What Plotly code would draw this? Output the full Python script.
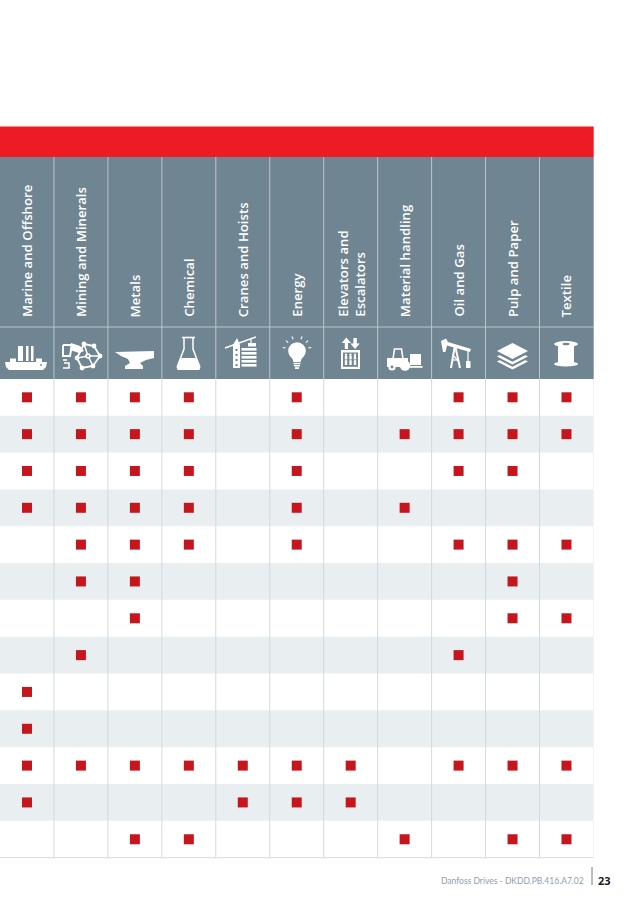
import math
import plotly.graph_objects as go

W, H = 638, 902
COL_W = 53.95
ROW_H = 36.83
ROW0_Y = 397.3

GREY = '#6F8592'
RED_BAND = '#ED1C24'
RED_MARK = '#C5151D'
STRIPE = '#E9EEF1'
BODY_LINE = '#D3DADF'
HEAD_LINE = '#B9C6CE'

industries = ['Marine and Offshore', 'Mining and Minerals', 'Metals', 'Chemical',
              'Cranes and Hoists', 'Energy', 'Elevators and<br>Escalators',
              'Material handling', 'Oil and Gas', 'Pulp and Paper', 'Textile']

# which industry columns are ticked on each row
row_00 = [0, 1, 2, 3, 5, 8, 9, 10]
row_01 = [0, 1, 2, 3, 5, 7, 8, 9, 10]
row_02 = [0, 1, 2, 3, 5, 8, 9]
row_03 = [0, 1, 2, 3, 5, 7]
row_04 = [1, 2, 3, 5, 8, 9, 10]
row_05 = [1, 2, 9]
row_06 = [2, 9, 10]
row_07 = [1, 8]
row_08 = [0]
row_09 = [0]
row_10 = [0, 1, 2, 3, 4, 5, 6, 8, 9, 10]
row_11 = [0, 4, 5, 6]
row_12 = [2, 3, 7, 9, 10]
rows = [row_00, row_01, row_02, row_03, row_04, row_05, row_06,
        row_07, row_08, row_09, row_10, row_11, row_12]

footer_text = 'Danfoss Drives - DKDD.PB.416.A7.02'
page_number = '23'

shapes = []


def px(x):
    return x / W


def py(y):
    return 1 - y / H


def rect(x0, y0, x1, y1, color='white', layer='above'):
    shapes.append(dict(type='rect', xref='paper', yref='paper', x0=px(x0), x1=px(x1), y0=py(y0), y1=py(y1),
                       fillcolor=color, line_width=0, layer=layer))


def poly(points, color='white'):
    path = 'M' + ' L'.join(f'{px(x):.5f},{py(y):.5f}' for x, y in points) + ' Z'
    shapes.append(dict(type='path', xref='paper', yref='paper', path=path, fillcolor=color, line_width=0))


def stroke(points, width=1.5, color='white'):
    path = 'M' + ' L'.join(f'{px(x):.5f},{py(y):.5f}' for x, y in points)
    shapes.append(dict(type='path', xref='paper', yref='paper', path=path, line=dict(color=color, width=width)))


def dot(cx, cy, rx, ry=None, color='white'):
    ry = rx if ry is None else ry
    shapes.append(dict(type='circle', xref='paper', yref='paper', x0=px(cx - rx), x1=px(cx + rx),
                       y0=py(cy - ry), y1=py(cy + ry), fillcolor=color, line_width=0))


# header bands
rect(0, 126.5, 593.7, 157, RED_BAND, 'below')
rect(0, 157, 593.7, 378.9, GREY, 'below')

# zebra rows
for r in range(len(rows)):
    if r % 2 == 1:
        shapes.append(dict(type='rect', xref='x', yref='y', x0=-0.5, x1=10.5, y0=r - 0.5, y1=r + 0.5,
                           fillcolor=STRIPE, line_width=0, layer='below'))

# column rules
for c in range(len(industries)):
    if c > 0:
        shapes.append(dict(type='line', xref='x', yref='paper', x0=c - 0.5, x1=c - 0.5, y0=py(157), y1=py(378.9),
                           line=dict(color=HEAD_LINE, width=1), layer='below'))
        shapes.append(dict(type='line', xref='x', yref='y', x0=c - 0.5, x1=c - 0.5, y0=-0.5, y1=12.5,
                           line=dict(color=BODY_LINE, width=1), layer='below'))
shapes.append(dict(type='line', xref='x', yref='y', x0=10.5, x1=10.5, y0=-0.5, y1=12.5,
                   line=dict(color='#F1F3F5', width=1), layer='below'))
shapes.append(dict(type='line', xref='x', yref='y', x0=-0.5, x1=10.5, y0=12.5, y1=12.5,
                   line=dict(color=BODY_LINE, width=1), layer='below'))
shapes.append(dict(type='line', xref='paper', yref='paper', x0=0, x1=px(593.7), y0=py(327), y1=py(327),
                   line=dict(color=HEAD_LINE, width=1), layer='below'))

# --- icons ---
# ship
poly([(5, 362), (47, 362), (46, 367), (43, 370), (9, 370), (6, 367)])
rect(18, 346, 23, 361)
rect(26, 346, 28.5, 361)
rect(31, 346, 33.5, 361)
rect(10, 358.5, 16, 362)
rect(36, 358.5, 42, 362)
dot(41, 365, 0.9, color=GREY)

# mining
stroke([(63, 345), (72, 345), (70, 356), (63, 356), (63, 345)], 2)
poly([(71, 343), (80, 346), (84, 351), (79, 353), (70, 350)])
stroke([(63, 360), (67, 360)], 1.6)
stroke([(64, 363), (69, 363), (69, 368), (63, 368)], 1.6)
stroke([(84, 344), (94, 346), (100, 356), (93, 366), (82, 368), (77, 358), (84, 344)], 1.8)
stroke([(84, 344), (88, 356), (100, 356)], 1.5)
stroke([(77, 358), (88, 356), (93, 366)], 1.5)
for n in [(84, 344), (94, 346), (100, 356), (93, 366), (82, 368), (77, 358)]:
    dot(n[0], n[1], 2.4)
dot(88, 356, 2.8)
dot(88, 356, 1, color=GREY)

# anvil
poly([(115, 352), (154, 351), (154, 358), (146, 360), (140, 363), (143, 366), (143, 369), (125, 369),
      (125, 366), (130, 363), (128, 359), (121, 356)])

# flask
stroke([(182, 337.5), (195, 337.5)], 1.6)
stroke([(184, 338), (184, 349), (177.5, 366), (178, 369), (199, 369), (199.5, 366), (193, 349), (193, 338)], 1.5)
poly([(180.5, 358), (196.5, 358), (200.5, 367), (199, 370), (178, 370), (176.5, 367)])

# crane
poly([(233, 345), (237, 338), (240, 345), (240, 368), (233, 368)])
for y in (349, 354, 359, 364):
    rect(235.5, y, 237.5, y + 2, GREY)
stroke([(225, 348), (256, 337)], 1.6)
stroke([(251, 339), (251, 344)], 1.2)
rect(248, 343, 256, 346.5)
for y in (348, 352, 356, 360, 364):
    rect(241.5, y, 256.5, y + 2.6)

# bulb
dot(297, 351, 8.8)
poly([(291.5, 356), (302.5, 356), (300.5, 362), (293.5, 362)])
rect(293.5, 362.8, 300.5, 364.3)
rect(294, 365, 300, 366.5)
rect(295, 367.2, 299, 369)
for a in (-170, -140, -110, -70, -40, -10):
    ca, sa = math.cos(math.radians(a)), math.sin(math.radians(a))
    stroke([(297 + 11.5 * ca, 350 + 11.5 * sa), (297 + 14.5 * ca, 350 + 14.5 * sa)], 1.1)

# elevator
rect(341, 350, 360, 369)
rect(343, 352.5, 358, 366.8, GREY)
for x in (346, 350.5, 355):
    rect(x - 1.2, 356, x + 1.2, 365)
    dot(x, 354.8, 1.2)
rect(343.5, 359.5, 357.5, 360.2, GREY)
poly([(346.3, 337.5), (351, 343), (348, 343), (348, 349), (344.8, 349), (344.8, 343), (341.8, 343)])
poly([(355, 349), (359.8, 343.5), (356.8, 343.5), (356.8, 338), (353.4, 338), (353.4, 343.5), (350.4, 343.5)])

# forklift
stroke([(393, 359), (394.5, 349), (401.5, 349), (403, 359)], 1.6)
rect(387, 358, 408, 367)
dot(392, 367, 3.6)
dot(392, 367, 1.4, color=GREY)
dot(405, 365.5, 5.2)
rect(410, 354, 421, 365)
rect(408, 366, 422.5, 367.8)

# pumpjack
poly([(441, 341), (446, 338.5), (448, 342), (471, 349), (470, 352), (447, 345.5), (445.5, 352), (443, 352)])
stroke([(455, 345), (451, 368)], 2)
stroke([(455, 345), (460, 368)], 2)
stroke([(452.5, 360), (458.5, 360)], 1.3)
stroke([(453, 355), (459, 362)], 1.2)
stroke([(468, 350), (468, 362)], 1.2)
rect(466, 361, 470.5, 368)

# layers
for cy, col in [(361.5, 'white'), (358.8, GREY), (356.5, 'white'), (353.8, GREY), (351, 'white')]:
    poly([(497, cy), (512.5, cy - 8), (528, cy), (512.5, cy + 8)], col)

# spool
dot(566, 364, 12, 2.6)
rect(558, 345, 574, 364)
dot(566, 344, 12, 3)
dot(566, 344, 3.5, 1.2, GREY)

# page furniture
shapes.append(dict(type='line', xref='paper', yref='paper', x0=px(592), x1=px(592), y0=py(867), y1=py(885),
                   line=dict(color='#6F7F8A', width=1)))

annotations = []
for c, name in enumerate(industries):
    annotations.append(dict(x=c, y=py(319), xref='x', yref='paper', text=name, textangle=-90, showarrow=False,
                            xanchor='center', yanchor='bottom', align='left',
                            font=dict(family='Open Sans', size=13.2, color='white', weight=600)))
annotations.append(dict(x=px(586), y=py(880.5), xref='paper', yref='paper', text=footer_text, showarrow=False,
                        xanchor='right', yanchor='middle', font=dict(family='Lato', size=8.5, color='#8FA0AB')))
annotations.append(dict(x=px(596), y=py(880.5), xref='paper', yref='paper', text=f'<b>{page_number}</b>', showarrow=False,
                        xanchor='left', yanchor='middle', font=dict(family='Open Sans', size=11, color='#1A1A1A')))

xs = []
ys = []
for r, cols in enumerate(rows):
    for c in cols:
        xs.append(c)
        ys.append(r)

fig = go.Figure(go.Scatter(x=xs, y=ys, mode='markers', hoverinfo='skip',
                           marker=dict(symbol='square', size=10, color=RED_MARK)))

fig.update_layout(
    width=W, height=H, margin=dict(l=0, r=0, t=0, b=0, pad=0), showlegend=False,
    paper_bgcolor='white', plot_bgcolor='white',
    xaxis=dict(range=[-0.5, W / COL_W - 0.5], visible=False, fixedrange=True),
    yaxis=dict(range=[(H - ROW0_Y) / ROW_H, -ROW0_Y / ROW_H], visible=False, fixedrange=True),
    shapes=shapes, annotations=annotations,
)

fig.write_html("out.html", config={'displayModeBar': False},
               post_script="document.body.style.margin='0';document.documentElement.style.overflow='hidden';")
